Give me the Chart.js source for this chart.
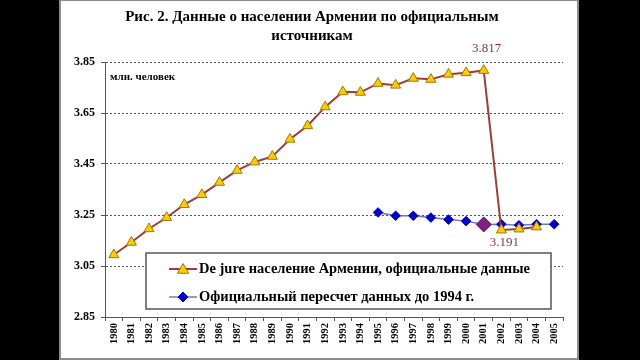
<!DOCTYPE html>
<html><head><meta charset="utf-8">
<script src="https://cdn.jsdelivr.net/npm/chart.js@4.4.1/dist/chart.umd.min.js"></script>
<style>
html,body{margin:0;padding:0;background:#000;width:640px;height:360px;overflow:hidden}
#panel{position:absolute;left:59px;top:-1px;width:520px;height:361px;background:#fff;border:2px solid #8c8c8c;box-sizing:border-box}
#wrap{position:absolute;left:61px;top:0;width:516px;height:358px}
</style></head><body>
<div id="panel"></div>
<div id="wrap"><canvas id="c" width="516" height="358"></canvas></div>
<script>
const years = ['1980','1981','1982','1983','1984','1985','1986','1987','1988','1989','1990','1991','1992','1993','1994','1995','1996','1997','1998','1999','2000','2001','2002','2003','2004','2005'];
const deJure = [3.094,3.143,3.196,3.240,3.291,3.330,3.378,3.425,3.458,3.480,3.547,3.600,3.674,3.733,3.731,3.766,3.759,3.786,3.782,3.802,3.808,3.817,3.191,3.195,3.203,null];
const recount = [null,null,null,null,null,null,null,null,null,null,null,null,null,null,null,3.260,3.247,3.247,3.240,3.232,3.226,3.213,3.214,3.210,3.214,3.214];
const yTicks = [2.85,3.05,3.25,3.45,3.65,3.85];
const seriesNames = ['De jure население Армении, официальные данные','Официальный пересчет данных до 1994 г.'];
const titleLines = ['Рис. 2. Данные о населении Армении по официальным','источникам'];
const unitLabel = 'млн. человек';
const labelledPoints = [{series:0, year:'2001', pos:'above'}, {series:0, year:'2002', pos:'below'}];
const highlightYear = '2001';

const SERIF = "'Liberation Serif','Times New Roman',serif";
const hi = years.indexOf(highlightYear);

const overlay = {
  id:'overlay',
  afterDatasetsDraw(chart){
    const ctx = chart.ctx, ca = chart.chartArea;
    ctx.save();
    ctx.fillStyle = '#000';
    ctx.font = 'bold 11px ' + SERIF;
    ctx.textAlign = 'left'; ctx.textBaseline = 'middle';
    ctx.fillText(unitLabel, ca.left + 5, ca.top + 15);
    ctx.fillStyle = '#993333';
    ctx.font = '13px ' + SERIF;
    ctx.textAlign = 'center';
    labelledPoints.forEach(p => {
      const i = years.indexOf(p.year);
      const el = chart.getDatasetMeta(p.series).data[i];
      const v = chart.data.datasets[p.series].data[i];
      ctx.fillText(v.toFixed(3), el.x + 3, p.pos === 'above' ? el.y - 22 : el.y + 13);
    });
    const bx = ca.left + 41, by = ca.top + 191, bw = 405, bh = 56;
    ctx.fillStyle = '#fff';
    ctx.fillRect(bx, by, bw, bh);
    ctx.strokeStyle = '#555'; ctx.lineWidth = 1.5;
    ctx.strokeRect(bx, by, bw, bh);
    chart.data.datasets.forEach((ds, k) => {
      const y = by + 16 + k * 28;
      const x0 = bx + 23, x1 = bx + 51, xc = (x0 + x1) / 2;
      ctx.strokeStyle = ds.borderColor; ctx.lineWidth = ds.borderWidth;
      ctx.beginPath(); ctx.moveTo(x0, y); ctx.lineTo(x1, y); ctx.stroke();
      ctx.beginPath();
      if (k === 0) {
        const r = 6.5;
        for (let j = 0; j < 3; j++) {
          const a = j * 2 * Math.PI / 3;
          const px = xc + Math.sin(a) * r, py = y - Math.cos(a) * r + 1;
          j ? ctx.lineTo(px, py) : ctx.moveTo(px, py);
        }
      } else {
        const r = 5;
        ctx.moveTo(xc - r, y); ctx.lineTo(xc, y - r); ctx.lineTo(xc + r, y); ctx.lineTo(xc, y + r);
      }
      ctx.closePath();
      ctx.fillStyle = k === 0 ? '#ffcc00' : '#0000cc';
      ctx.fill();
      ctx.strokeStyle = k === 0 ? '#a07800' : '#0000cc'; ctx.lineWidth = 1;
      ctx.stroke();
      ctx.fillStyle = '#000';
      ctx.font = 'bold 14.5px ' + SERIF;
      ctx.textAlign = 'left'; ctx.textBaseline = 'middle';
      ctx.fillText(seriesNames[k], x1 + 2, y);
    });
    ctx.restore();
  }
};

new Chart(document.getElementById('c'), {
  type:'line',
  data:{
    labels: years,
    datasets:[
      {label: seriesNames[0], data: deJure, borderColor:'#a33a3a', borderWidth:2,
       pointStyle:'triangle', pointRadius:5.8, pointBackgroundColor:'#ffcc00', pointBorderColor:'#a07800', pointBorderWidth:1,
       tension:0, spanGaps:false},
      {label: seriesNames[1], data: recount, borderColor:'#6a78c0', borderWidth:1.5,
       pointStyle:'rectRot',
       pointRadius: years.map((y,i)=> i===hi ? 7.5 : 4.8),
       pointBackgroundColor: years.map((y,i)=> i===hi ? '#80207f' : '#0000cc'),
       pointBorderColor: years.map((y,i)=> i===hi ? '#5a105a' : '#0000cc'),
       pointBorderWidth:1, tension:0}
    ]
  },
  options:{
    responsive:false, animation:false, devicePixelRatio:1,
    layout:{padding:{left:0,right:14,top:0,bottom:0}},
    plugins:{
      legend:{display:false}, tooltip:{enabled:false},
      title:{display:true, text:titleLines, color:'#000',
        font:{family:SERIF, size:15, weight:'bold', lineHeight:'19px'},
        padding:{top:7.5,bottom:16.5}}
    },
    scales:{
      x:{
        offset:true,
        grid:{drawOnChartArea:false, drawTicks:true, tickLength:4, offset:true, color:'#555', tickBorderDash:[]},
        border:{color:'#555', width:1},
        ticks:{minRotation:90, maxRotation:90, autoSkip:false, padding:2, color:'#000',
          font:{family:SERIF, size:10.5, weight:'bold'}},
        afterFit(s){ s.height = 41; }
      },
      y:{
        min:2.85, max:3.85,
        afterBuildTicks(axis){ axis.ticks = yTicks.map(v=>({value:v})); },
        grid:{color:'#555', lineWidth:1, tickLength:4, tickBorderDash:[], tickColor:'#555'},
        border:{color:'#555', width:1, dash:[2,2]},
        ticks:{padding:6, color:'#000', font:{family:SERIF, size:12, weight:'bold'},
          callback:(v)=> Number(v).toFixed(2)},
        afterFit(s){ s.width = 44; }
      }
    }
  },
  plugins:[overlay]
});
</script>
</body></html>
